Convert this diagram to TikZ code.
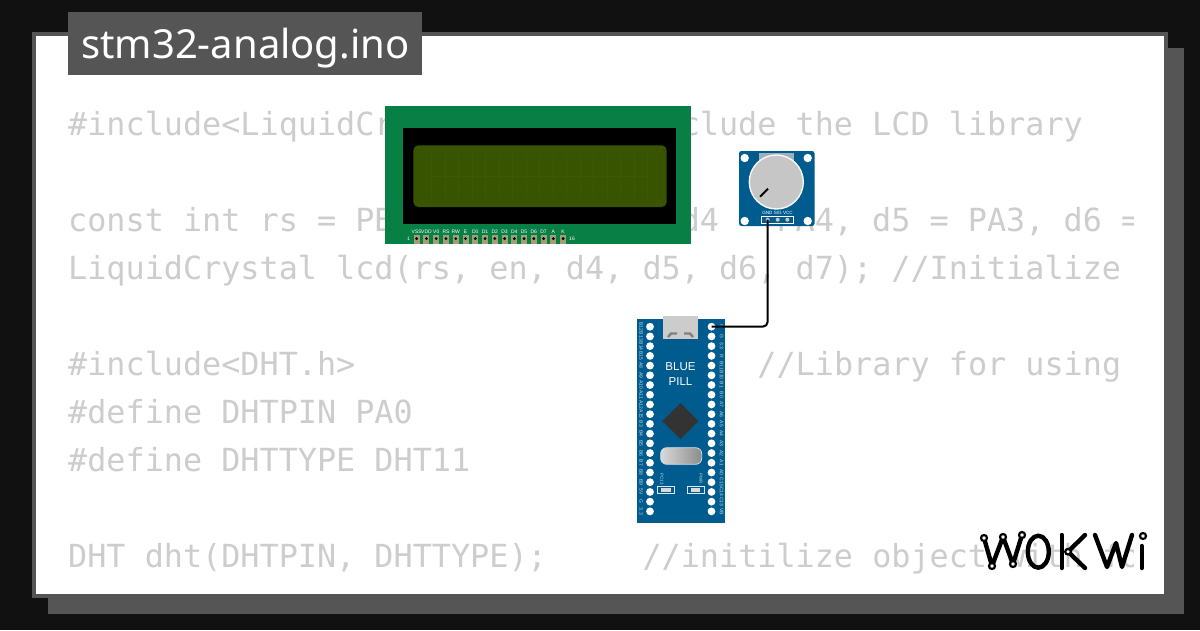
\documentclass[tikz,border=0pt]{standalone}
\usepackage{fontspec}
\setmainfont{Liberation Sans}
\newfontfamily\codefont{DejaVu Sans Mono}
\newfontfamily\titlefont{Noto Sans}
\definecolor{bgdark}{HTML}{111111}
\definecolor{panelgray}{HTML}{555555}
\definecolor{codegray}{HTML}{CDCDCD}
\definecolor{lcdgreen}{HTML}{087F45}
\definecolor{lcdscreen}{HTML}{385400}
\definecolor{lcdcell}{HTML}{3C5904}
\definecolor{pinbrass}{HTML}{A39E74}
\definecolor{pillblue}{HTML}{005C8F}
\definecolor{usbgray}{HTML}{CCCCCC}
\definecolor{chipdark}{HTML}{333333}
\definecolor{knobgray}{HTML}{C6C6C6}
\tikzset{
  codeline/.style={anchor=base west,inner sep=0pt,text=codegray,font=\codefont\fontsize{31.8}{32}\selectfont},
  hole/.style={circle,fill=white,draw=none,minimum size=7.8pt,inner sep=0pt},
  lcdpin/.style={fill=pinbrass,draw=none},
  lcdlabel/.style={text=white,inner sep=0pt,font=\fontsize{5}{5}\selectfont},
  pilllabel/.style={text=white!75!pillblue,inner sep=0pt,rotate=-90,font=\fontsize{5}{5}\selectfont},
  wirestyle/.style={draw=black,line width=2pt,rounded corners=5pt},
  logostroke/.style={draw=black,line width=4.4pt,line cap=round,line join=round},
  logodot/.style={draw=black,fill=white,line width=2.2pt},
}
\begin{document}
\begin{tikzpicture}[x=1pt,y=-1pt]
\useasboundingbox (0,0) rectangle (1200,630);
\fill[bgdark] (0,0) rectangle (1200,630);
\fill[panelgray] (48,48) rectangle (1184,614);
\draw[panelgray,line width=4pt,fill=white] (34,34) rectangle (1166,596);
% code
\begin{scope}
\clip (60,36) rectangle (1133,594);
\node[codeline] (c1) at (68,135) {\#include<LiquidCrystal.h>~~~//Include the LCD library};
\node[codeline] (c3) at (68,231) {const int rs = PB11, en = PB10, d4 = PA4, d5 = PA3, d6 = PA2, d7 = PA1;};
\node[codeline] (c4) at (68,279) {LiquidCrystal lcd(rs, en, d4, d5, d6, d7); //Initialize the LCD};
\node[codeline] (c6) at (68,375) {\#include<DHT.h>~~~~~~~~~~~~~~~~~~~~~//Library for using DHT};
\node[codeline] (c7) at (68,423) {\#define DHTPIN PA0};
\node[codeline] (c8) at (68,471) {\#define DHTTYPE DHT11};
\node[codeline] (c10) at (68,567) {DHT dht(DHTPIN, DHTTYPE);~~~~~//initilize object with for};
\end{scope}
% title
\fill[panelgray] (68,12) rectangle (422,75);
\node[anchor=base west,inner sep=0pt,text=white,font=\titlefont\fontsize{40}{40}\selectfont] (title) at (81,58) {stm32-analog.ino};
% LCD
\fill[lcdgreen] (385,106) rectangle (691,244);
\fill[black] (403.3,127.7) rectangle (676.3,224.3);
\fill[lcdscreen,rounded corners=5pt] (413.3,145.3) rectangle (666.7,207);
\foreach \i in {0,...,16} { \draw[lcdcell,line width=0.6pt] ({431.7+\i*13.5},154) -- ({431.7+\i*13.5},198); }
\draw[lcdcell,line width=0.6pt] (431.7,176.3) -- (647.7,176.3);
\foreach \i in {0,...,15} {
  \fill[lcdpin] ({413.7+\i*9.76},235) rectangle ({419.7+\i*9.76},244);
  \fill[black] ({416.7+\i*9.76},238.6) circle (1.6);
}
\foreach \i/\t in {0/VSS,1/VDD,2/V0,3/RS,4/RW,5/E,6/D0,7/D1,8/D2,9/D3,10/D4,11/D5,12/D6,13/D7,14/A,15/K} {
  \node[lcdlabel] at ({416.7+\i*9.76},231.5) {\t};
}
\node[lcdlabel] (lcd1) at (408.5,239) {1};
\node[lcdlabel] (lcd16) at (572,239) {16};
% potentiometer
\fill[pillblue,rounded corners=2.5pt] (739,151) rectangle (814.5,226);
\fill[knobgray!80!pillblue] (759.3,153) rectangle (794,165);
\foreach \p in {(744.7,158),(807.7,158),(744.7,221),(807.7,221)} { \fill[white] \p circle (4.2); }
\draw[white!85!knobgray,line width=1.4pt,fill=knobgray] (776.3,182) circle (27);
\draw[black,line width=2pt] (760,196.7) -- (768,188.7);
\node[text=white,inner sep=0pt,font=\fontsize{4.6}{4.6}\selectfont] (potlabels) at (777.5,212.6) {GND SIG VCC};
\draw[white,line width=1pt] (761.7,216) rectangle (793.3,223.3);
\node[circle,fill=knobgray,inner sep=0pt,minimum size=4pt] (potsig) at (767.7,219.7) {};
\node[circle,fill=knobgray,inner sep=0pt,minimum size=4pt] (pot2) at (777.7,219.7) {};
\node[circle,fill=knobgray,inner sep=0pt,minimum size=4pt] (pot3) at (787.3,219.7) {};
% blue pill
\fill[pillblue] (637,319) rectangle (725,523);
\fill[usbgray] (663,316) rectangle (697.7,339.3);
\draw[gray,line width=2.4pt] (668,337) -- (671,333.5) -- (677,333.5) (693,337) -- (690,333.5) -- (684,333.5);
\foreach \i/\t in {0/B12,1/B13,2/B14,3/B15,4/A8,5/A9,6/A10,7/A11,8/A12,9/A15,10/B3,11/B4,12/B5,13/B6,14/B7,15/B8,16/B9,17/5V,18/G,19/3.3} {
  \node[hole] at (650,{326.7+\i*9.72}) {};
  \node[pilllabel] at (641,{326.7+\i*9.72}) {\t};
}
\foreach \i/\t in {1/G,2/3.3,3/R,4/B11,5/B10,6/B1,7/B0,8/A7,9/A6,10/A5,11/A4,12/A3,13/A2,14/A1,15/A0,16/C15,17/C14,18/C13,19/VB} {
  \node[hole] at (711.5,{326.7+\i*9.72}) {};
  \node[pilllabel] at (721.5,{326.7+\i*9.72}) {\t};
}
\node[hole] (pillpin) at (711.5,326.7) {};
\node[pilllabel] at (721.5,326.7) {G};
\node[text=white,inner sep=0pt,font=\fontsize{11.5}{11.5}\selectfont] (blue) at (680.5,367) {BLUE};
\node[text=white,inner sep=0pt,font=\fontsize{11.5}{11.5}\selectfont] (pill) at (680.5,382) {PILL};
\fill[chipdark] (680.5,403) -- (698.5,421) -- (680.5,439) -- (662.5,421) -- cycle;
\shade[left color=white!85!black,right color=white!55!black,rounded corners=6pt,draw=white!80!pillblue,line width=0.8pt] (660.7,447.7) rectangle (701.7,464.3);
\draw[white!85!pillblue,line width=0.9pt] (657.3,486.3) rectangle (674.7,493.7);
\fill[white!85!black] (661,488.3) rectangle (671,491.7);
\draw[white!85!pillblue,line width=0.9pt] (687,486.3) rectangle (704,493.7);
\fill[white!85!black] (691,488.3) rectangle (700,491.7);
\node[pilllabel,font=\fontsize{4.4}{4.4}\selectfont] (ledl) at (662,479) {PC13};
\node[pilllabel,font=\fontsize{4.4}{4.4}\selectfont] (ledr) at (701,479) {PWR};
% wire
\draw[wirestyle] (potsig.center) |- (pillpin.center);
% logo
\draw[logostroke] (984,538) -- (992,566) -- (1003,537) -- (1013,564) -- (1022,535);
\foreach \p in {(984,538),(992,566),(1003,537),(1013,564),(1022,535)} { \draw[logodot] \p circle (3); }
\draw[logostroke] (1038.3,551.7) ellipse (10.5 and 16);
\draw[logostroke] (1061.7,535) -- (1061.7,568);
\draw[logostroke] (1085,535) -- (1068,551.7) -- (1085,568);
\draw[logodot] (1068,551.7) circle (2.8);
\draw[logostroke] (1095,535) -- (1107,567) -- (1116,543) -- (1122,567) -- (1132,535);
\draw[logostroke] (1141.7,546) -- (1141.7,568);
\draw[logodot] (1143,536) circle (3);
\end{tikzpicture}
\end{document}
